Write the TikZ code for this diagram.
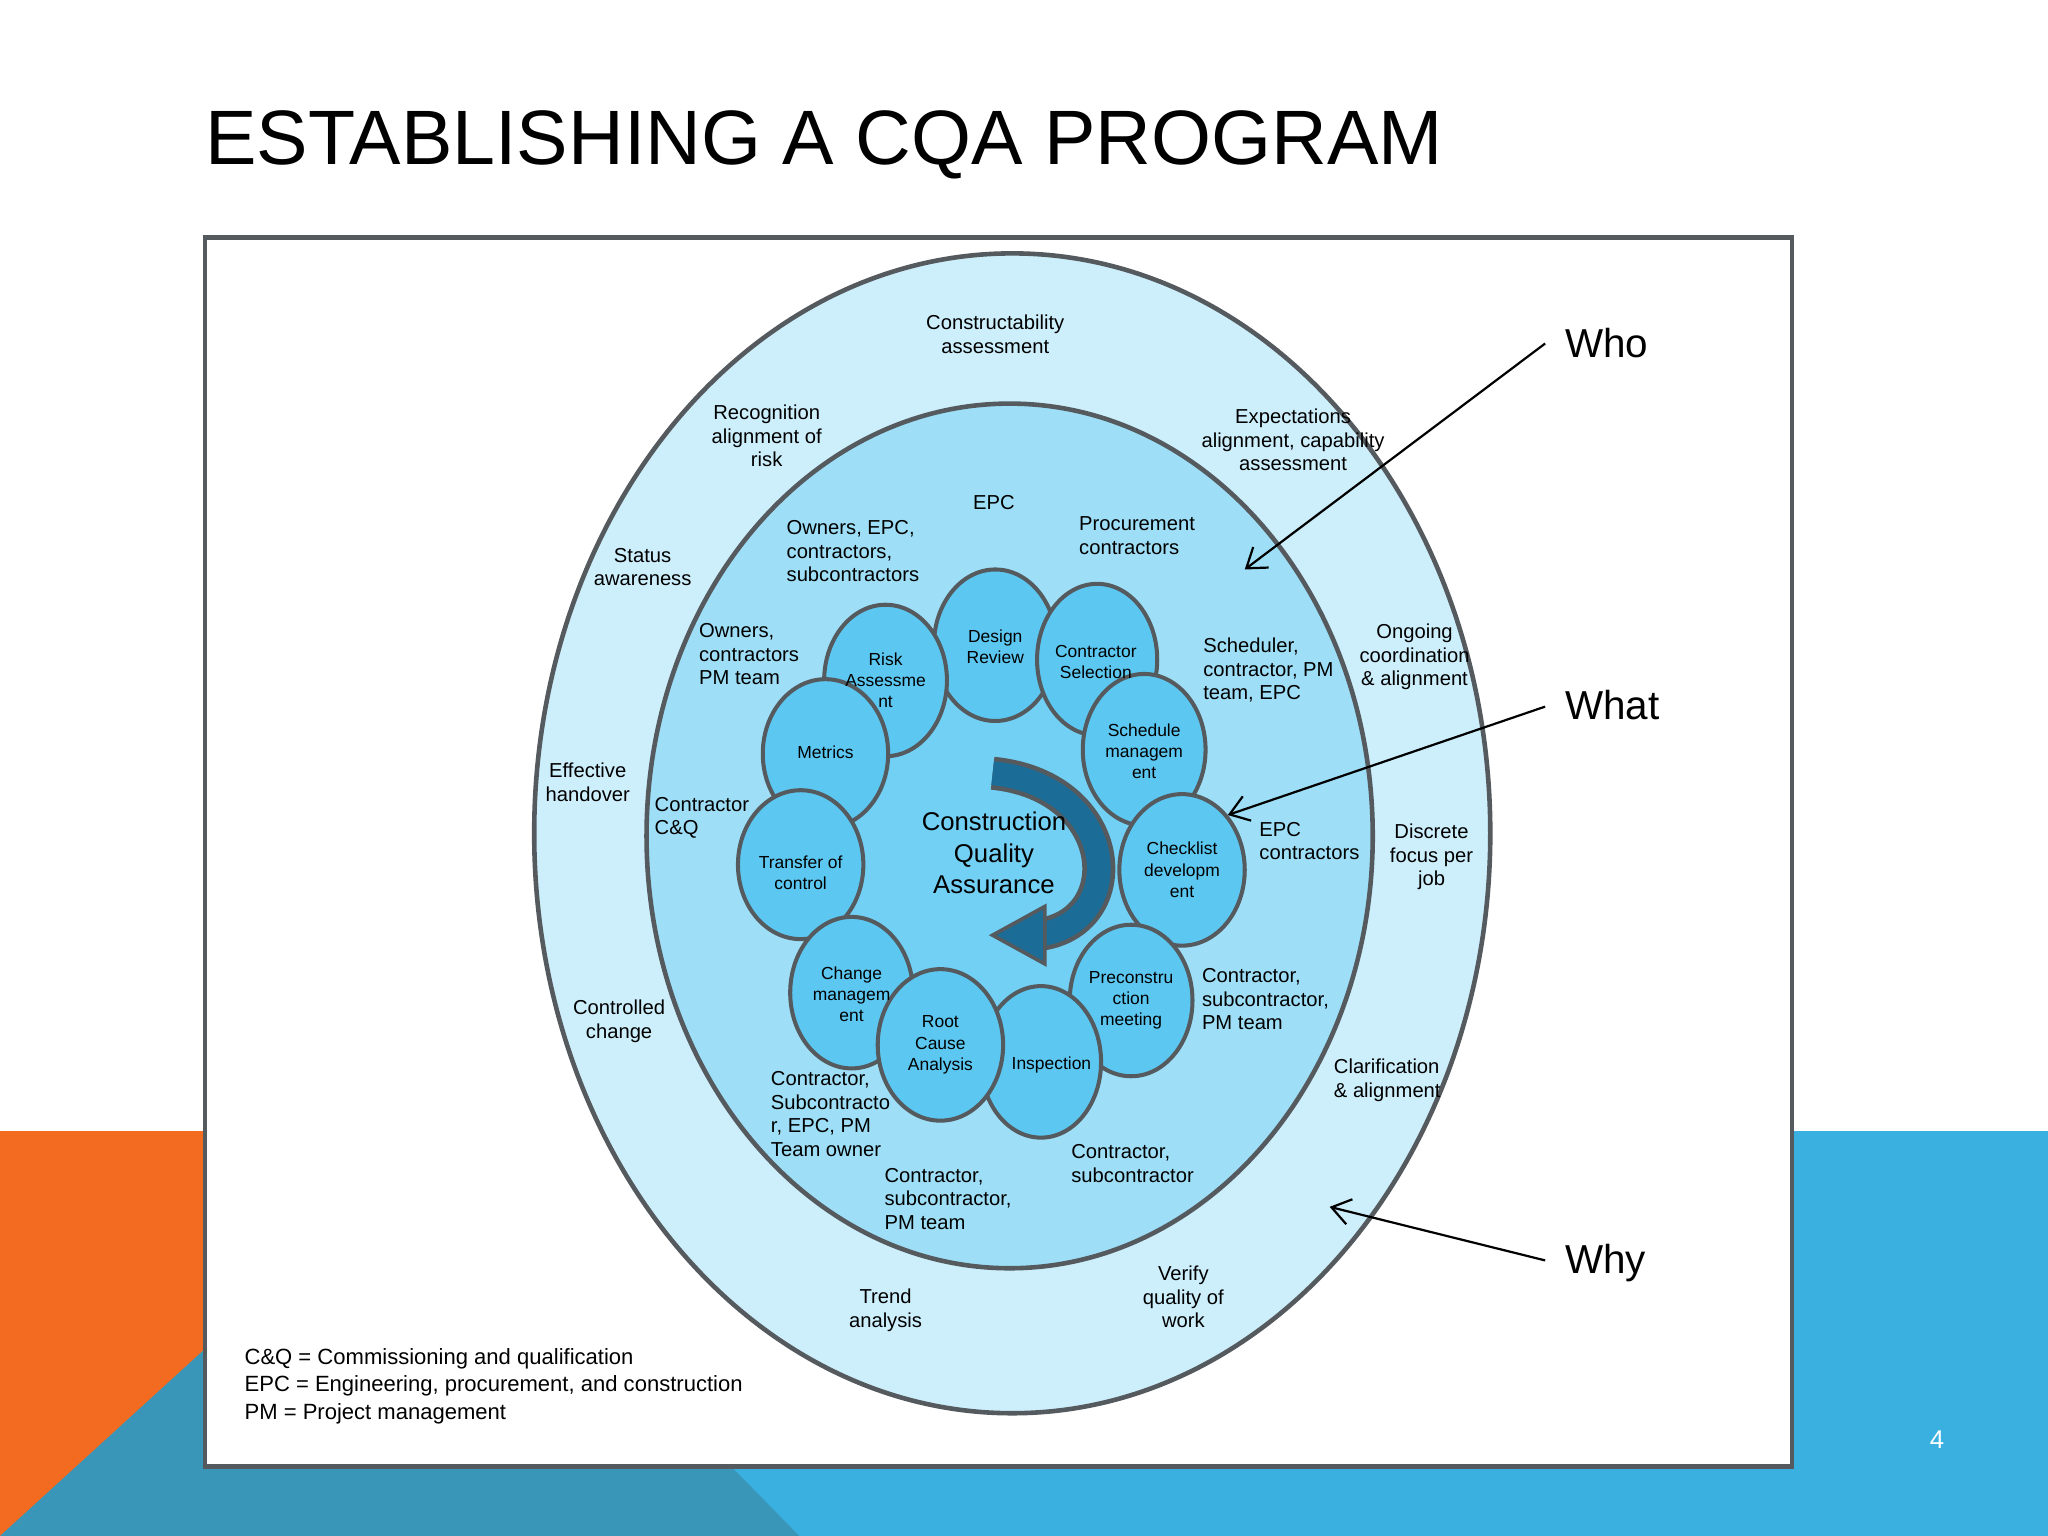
\documentclass[tikz,border=0pt]{standalone}
\usepackage{fontspec}
\setmainfont{Liberation Sans}
\usetikzlibrary{arrows.meta}
\definecolor{frame}{HTML}{555A5E}
\definecolor{outerc}{HTML}{CDEFFC}
\definecolor{midc}{HTML}{9EDFF7}
\definecolor{innerc}{HTML}{72D0F4}
\definecolor{petal}{HTML}{5CC8F2}
\definecolor{arrowc}{HTML}{1B6C96}
\definecolor{orangec}{HTML}{F26B21}
\definecolor{tealc}{HTML}{3A96B8}
\definecolor{bluec}{HTML}{3AB0E0}
\tikzset{
 t/.style={font=\fontsize{11}{12.8}\selectfont, align=center, inner sep=0pt},
 tl/.style={font=\fontsize{11}{12.8}\selectfont, align=left, inner sep=0pt, anchor=west},
 pt/.style={font=\fontsize{9.5}{11.5}\selectfont, align=center, inner sep=0pt},
 petalc/.style={fill=petal, draw=frame, line width=2.2pt},
 lbl/.style={font=\fontsize{22}{26}\selectfont, inner sep=0pt},
 ptr/.style={-{Straight Barb[length=10pt,width=14pt]}, line width=1.2pt}
}
\begin{document}
\begin{tikzpicture}[x=0.025cm,y=-0.025cm]
\useasboundingbox (0,0) rectangle (1568,1176);
\fill[white] (0,0) rectangle (1568,1176);
% corner decorations
\fill[orangec] (0,866) rectangle (160,1176);
\fill[bluec] (1372,866) rectangle (1568,1176);
\fill[bluec] (560,1123) rectangle (1372,1176);
\fill[tealc] (0,1176) -- (160,1030) -- (160,1123) -- (560,1123) -- (612,1176) -- cycle;
% title
\node[font=\fontsize{42}{48}\selectfont, anchor=west, inner sep=0pt] (title) at (157,111) {ESTABLISHING A CQA PROGRAM};
% frame
\draw[frame, line width=2.5pt, fill=white] (157,182) rectangle (1372,1123);
% ellipses
\draw[frame, line width=2.5pt, fill=outerc] (775,638) ellipse [x radius=366, y radius=444];
\draw[frame, line width=2.5pt, fill=midc] (773,640) ellipse [x radius=278, y radius=331];
\fill[innerc] (760,645) circle [radius=150];
% petals
\draw[petalc] (762,494) ellipse [x radius=47, y radius=58];
\draw[petalc] (840,505) ellipse [x radius=46, y radius=58];
\draw[petalc] (678,521) ellipse [x radius=47, y radius=58];
\draw[petalc] (876,574) ellipse [x radius=47, y radius=58];
\draw[petalc] (632,577) ellipse [x radius=48, y radius=57];
\draw[petalc] (905,666) ellipse [x radius=48, y radius=58];
\draw[petalc] (613,662) ellipse [x radius=48, y radius=57];
\draw[petalc] (866,766) ellipse [x radius=47, y radius=58];
\draw[petalc] (652,760) ellipse [x radius=47, y radius=58];
\draw[petalc] (797,813) ellipse [x radius=46, y radius=58];
\draw[petalc] (720,800) ellipse [x radius=48, y radius=58];
\node[pt] (p1) at (762,495) {Design\\Review};
\node[pt] (p2) at (839,507) {Contractor\\Selection};
\node[pt] (p3) at (678,521) {Risk\\Assessme\\nt};
\node[pt] (p4) at (876,575) {Schedule\\managem\\ent};
\node[pt] (p5) at (632,576) {Metrics};
\node[pt] (p6) at (905,666) {Checklist\\developm\\ent};
\node[pt] (p7) at (613,668) {Transfer of\\control};
\node[pt] (p8) at (866,766) {Preconstru\\ction\\meeting};
\node[pt] (p9) at (652,761) {Change\\managem\\ent};
\node[pt] (p10) at (720,800) {Root\\Cause\\Analysis};
\node[pt] (p11) at (805,815) {Inspection};
% curved arrow
\draw[frame, line width=18pt] (760,592) .. controls (860,602) and (865,712) .. (790,716);
\draw[arrowc, line width=13pt] (760,592) .. controls (860,602) and (865,712) .. (790,716);
\fill[arrowc, draw=frame, line width=2pt] (800,694) -- (760,716) -- (800,738) -- cycle;
\node[font=\fontsize{14}{17}\selectfont, align=center, inner sep=0pt] (cqa) at (761,653) {Construction\\Quality\\Assurance};
% outer ring texts
\node[t] (o1) at (762,256) {Constructability\\assessment};
\node[t] (o2) at (587,334) {Recognition\\alignment of\\risk};
\node[t] (o3) at (990,337) {Expectations\\alignment, capability\\assessment};
\node[t] (o4) at (492,434) {Status\\awareness};
\node[t] (o5) at (1083,503) {Ongoing\\coordination\\\& alignment};
\node[t] (o6) at (450,599) {Effective\\handover};
\node[t] (o7) at (1096,656) {Discrete\\focus per\\job};
\node[t] (o8) at (474,782) {Controlled\\change};
\node[tl] (o9) at (1021,827) {Clarification\\\& alignment};
\node[t] (o10) at (678,1003) {Trend\\analysis};
\node[t] (o11) at (906,993) {Verify\\quality of\\work};
% middle ring texts
\node[t] (m1) at (761,385) {EPC};
\node[tl] (m2) at (826,410) {Procurement\\contractors};
\node[tl] (m3) at (602,422) {Owners, EPC,\\contractors,\\subcontractors};
\node[tl] (m4) at (535,501) {Owners,\\contractors\\PM team};
\node[tl] (m5) at (921,513) {Scheduler,\\contractor, PM\\team, EPC};
\node[tl] (m6) at (501,626) {Contractor\\C\&Q};
\node[tl] (m7) at (964,644) {EPC\\contractors};
\node[tl] (m8) at (920,765) {Contractor,\\subcontractor,\\PM team};
\node[tl] (m9) at (590,853) {Contractor,\\Subcontracto\\r, EPC, PM\\Team owner};
\node[tl] (m10) at (820,891) {Contractor,\\subcontractor};
\node[tl] (m11) at (677,918) {Contractor,\\subcontractor,\\PM team};
% pointers
\node[lbl, anchor=west] (who) at (1198,263) {Who};
\node[lbl, anchor=west] (what) at (1198,540) {What};
\node[lbl, anchor=west] (why) at (1198,967) {Why};
\coordinate (whoe) at (953,436);
\coordinate (whate) at (940,624);
\coordinate (whye) at (1018,924);
\draw[ptr] (1183,263) -- (whoe);
\draw[ptr] (1183,541) -- (whate);
\draw[ptr] (1183,965) -- (whye);
% legend
\node[font=\fontsize{12}{15}\selectfont, align=left, anchor=north west, inner sep=0pt] (leg) at (187,1032) {C\&Q = Commissioning and qualification\\EPC = Engineering, procurement, and construction\\PM = Project management};
\node[font=\fontsize{14}{16}\selectfont, text=white, inner sep=0pt] (pg) at (1483,1102) {4};
\end{tikzpicture}
\end{document}
